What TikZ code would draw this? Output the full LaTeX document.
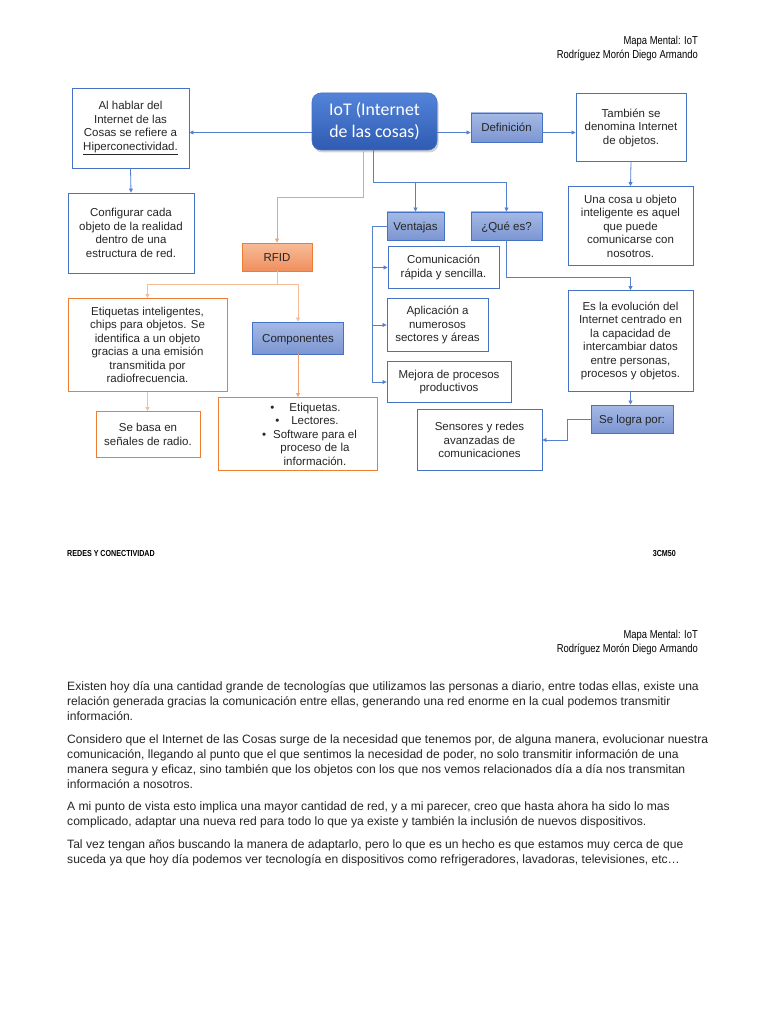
\documentclass[tikz,border=0pt]{standalone}
\usepackage{fontspec}
\setmainfont{Liberation Sans}
\newfontfamily\calibrifont{Carlito}
\newfontfamily\narrowfont[FakeStretch=0.82]{Liberation Sans}
\usepackage{xcolor}
\usetikzlibrary{positioning, arrows.meta, calc, shadows}
\definecolor{bluebd}{HTML}{4472C4}
\definecolor{blueln}{HTML}{5580CC}
\definecolor{lblueTop}{HTML}{A5B9E5}
\definecolor{lblueBot}{HTML}{7C96D2}
\definecolor{iotTop}{HTML}{5384DA}
\definecolor{iotBot}{HTML}{2F5BB2}
\definecolor{orangebd}{HTML}{ED7D31}
\definecolor{orangeln}{HTML}{F2A26F}
\definecolor{lorangeln}{HTML}{F6BD98}
\definecolor{oTop}{HTML}{F7BC98}
\definecolor{oBot}{HTML}{F08F5E}
\definecolor{textgray}{HTML}{262626}

\begin{document}
\begin{tikzpicture}[x=1pt, y=-1pt,
  wh/.style 2 args={minimum width=#1pt, minimum height=#2pt},
  textbox/.style={draw=bluebd, line width=0.9pt, fill=white, align=center,
                  inner sep=0pt, text=textgray, font=\fontsize{11.5}{13.5}\selectfont},
  obox/.style={textbox, draw=orangebd},
  labelbox/.style={textbox, top color=lblueTop, bottom color=lblueBot,
                   text height=8.3pt, text depth=0pt},
  rfidbox/.style={textbox, draw=orangebd, top color=oTop, bottom color=oBot,
                  text height=8.3pt, text depth=0pt},
  iotbox/.style={draw=bluebd, line width=0.6pt, rounded corners=9pt, align=center,
                 top color=iotTop, bottom color=iotBot, text=white, inner sep=0pt,
                 font=\calibrifont\fontsize{17.8}{22.4}\selectfont,
                 drop shadow={opacity=0.35, shadow xshift=1.5pt, shadow yshift=-2.5pt}},
  arrow/.style={-{Triangle[length=4pt, width=4pt]}, line width=0.8pt, draw=blueln},
  oarrow/.style={arrow, draw=orangeln},
  loarrow/.style={arrow, draw=lorangeln},
  header/.style={align=right, inner sep=0pt, text=black,
                 font=\narrowfont\fontsize{11.5}{14}\selectfont},
  footer/.style={inner sep=0pt, text=black, font=\narrowfont\bfseries\fontsize{8.7}{10}\selectfont},
  bodytext/.style={align=left, inner sep=0pt, text=textgray,
                   font=\fontsize{12.1}{15}\selectfont}
]
  \fill[white] (0,0) rectangle (768,1024);
  \useasboundingbox (0,0) rectangle (768,1024);

  % page 1: mind map
  \node[header, anchor=north east] (head1) at (698,35.5) {Mapa Mental: IoT\\Rodríguez Morón Diego Armando};

  \node[iotbox, wh={125}{57}] (iot) at (374.5,121.5) {IoT (Internet\\de las cosas)};
  \node[textbox, wh={117}{80}] (hiper) at (130.5,128)
    {Al hablar del\\Internet de las\\Cosas se refiere a\\\underline{Hiperconectividad.}};
  \node[textbox, wh={126}{80}] (config) at (131,233)
    {Configurar cada\\objeto de la realidad\\dentro de una\\estructura de red.};
  \node[labelbox, wh={71}{29}] (defin) at (506.5,127.5) {Definición};
  \node[textbox, wh={110}{68}] (tambien) at (631,127.5) {También se\\denomina Internet\\de objetos.};
  \node[textbox, wh={125}{79}] (unacosa) at (630.5,226)
    {Una cosa u objeto\\inteligente es aquel\\que puede\\comunicarse con\\nosotros.};
  \node[labelbox, wh={57}{28}] (ventajas) at (415.5,226) {Ventajas};
  \node[labelbox, wh={71}{28}] (quees) at (506.5,226) {¿Qué es?};
  \node[textbox, wh={111}{42}] (comun) at (443.5,267.5) {Comunicación\\rápida y sencilla.};
  \node[textbox, wh={101}{53}] (aplic) at (437.5,325) {Aplicación a\\numerosos\\sectores y áreas};
  \node[textbox, wh={124}{41}] (mejora) at (449,382) {Mejora de procesos\\productivos};
  \node[textbox, wh={125}{101}] (evol) at (630.5,341)
    {Es la evolución del\\Internet centrado en\\la capacidad de\\intercambiar datos\\entre personas,\\procesos y objetos.};
  \node[labelbox, wh={82}{28}] (logra) at (632,419) {Se logra por:};
  \node[textbox, wh={125}{61}] (sensores) at (479.5,440) {Sensores y redes\\avanzadas de\\comunicaciones};

  \node[rfidbox, wh={70}{28}] (rfid) at (277,257) {RFID};
  \node[obox, wh={159}{93}] (etiq) at (147.5,345)
    {Etiquetas inteligentes,\\chips para objetos. Se\\identifica a un objeto\\gracias a una emisión\\transmitida por\\radiofrecuencia.};
  \node[labelbox, wh={91}{32}] (compo) at (298,338) {Componentes};
  \node[obox, wh={159}{73}] (lista) at (297.5,434)
    {\hspace*{35pt}\llap{\textbullet\hspace{15pt}}Etiquetas.\\
     \hspace*{35pt}\llap{\textbullet\hspace{12pt}}Lectores.\\
     \hspace*{35pt}\llap{\textbullet\hspace{7pt}}Software para el\\
     \hspace*{35pt}proceso de la\\
     \hspace*{35pt}información.};
  \node[obox, wh={104}{46}] (basa) at (148,434.5) {Se basa en\\señales de radio.};

  % connectors
  \coordinate (row) at (0,132.5);
  \coordinate (split) at (373,182);
  \coordinate (obus) at (363,197);
  \coordinate (rbus) at (277,284);
  \coordinate (vbus) at (372,226);
  \coordinate (qbus) at (506,277);
  \coordinate (lbus) at (567,440);
  \draw[arrow] (iot.west |- row) -- (hiper.east |- row);
  \draw[arrow] (hiper.south) -- (config.north);
  \draw[arrow] (iot.east |- row) -- (defin.west |- row);
  \draw[arrow] (defin.east |- row) -- (tambien.west |- row);
  \draw[arrow] (tambien.south) -- (unacosa.north);
  \draw[arrow] (iot.south -| split) -- (split) -| (quees.north);
  \draw[arrow] (split -| ventajas.north) -- (ventajas.north);
  \draw[arrow] (ventajas.west) -- (vbus) |- (mejora.west);
  \draw[arrow] (vbus |- comun.west) -- (comun.west);
  \draw[arrow] (vbus |- aplic.west) -- (aplic.west);
  \draw[arrow] (quees.south) -- (quees.south |- qbus) -| (evol.north);
  \draw[arrow] (evol.south) -- (evol.south |- logra.north);
  \draw[arrow] (logra.west) -| (lbus) -- (sensores.east);
  \draw[oarrow] (iot.south -| obus) -- (obus) -| (rfid.north);
  \draw[loarrow] (rfid.south) -- (rbus) -| (etiq.north);
  \draw[loarrow] (rbus) -| (compo.north);
  \draw[oarrow] (compo.south) -- (compo.south |- lista.north);
  \draw[loarrow] (etiq.south) -- (etiq.south |- basa.north);

  \node[footer, anchor=base west] (foot1) at (67,556) {REDES Y CONECTIVIDAD};
  \node[footer, anchor=base east] (foot2) at (676,556) {3CM50};

  % page 2: text
  \node[header, anchor=north east] (head2) at (698,629.5) {Mapa Mental: IoT\\Rodríguez Morón Diego Armando};
  \node[bodytext, anchor=north west] (texto) at (67,681.5)
    {Existen hoy día una cantidad grande de tecnologías que utilizamos las personas a diario, entre todas ellas, existe una\\
     relación generada gracias la comunicación entre ellas, generando una red enorme en la cual podemos transmitir\\
     información.\\[7.5pt]
     Considero que el Internet de las Cosas surge de la necesidad que tenemos por, de alguna manera, evolucionar nuestra\\
     comunicación, llegando al punto que el que sentimos la necesidad de poder, no solo transmitir información de una\\
     manera segura y eficaz, sino también que los objetos con los que nos vemos relacionados día a día nos transmitan\\
     información a nosotros.\\[7.5pt]
     A mi punto de vista esto implica una mayor cantidad de red, y a mi parecer, creo que hasta ahora ha sido lo mas\\
     complicado, adaptar una nueva red para todo lo que ya existe y también la inclusión de nuevos dispositivos.\\[7.5pt]
     Tal vez tengan años buscando la manera de adaptarlo, pero lo que es un hecho es que estamos muy cerca de que\\
     suceda ya que hoy día podemos ver tecnología en dispositivos como refrigeradores, lavadoras, televisiones, etc…};
\end{tikzpicture}
\end{document}
